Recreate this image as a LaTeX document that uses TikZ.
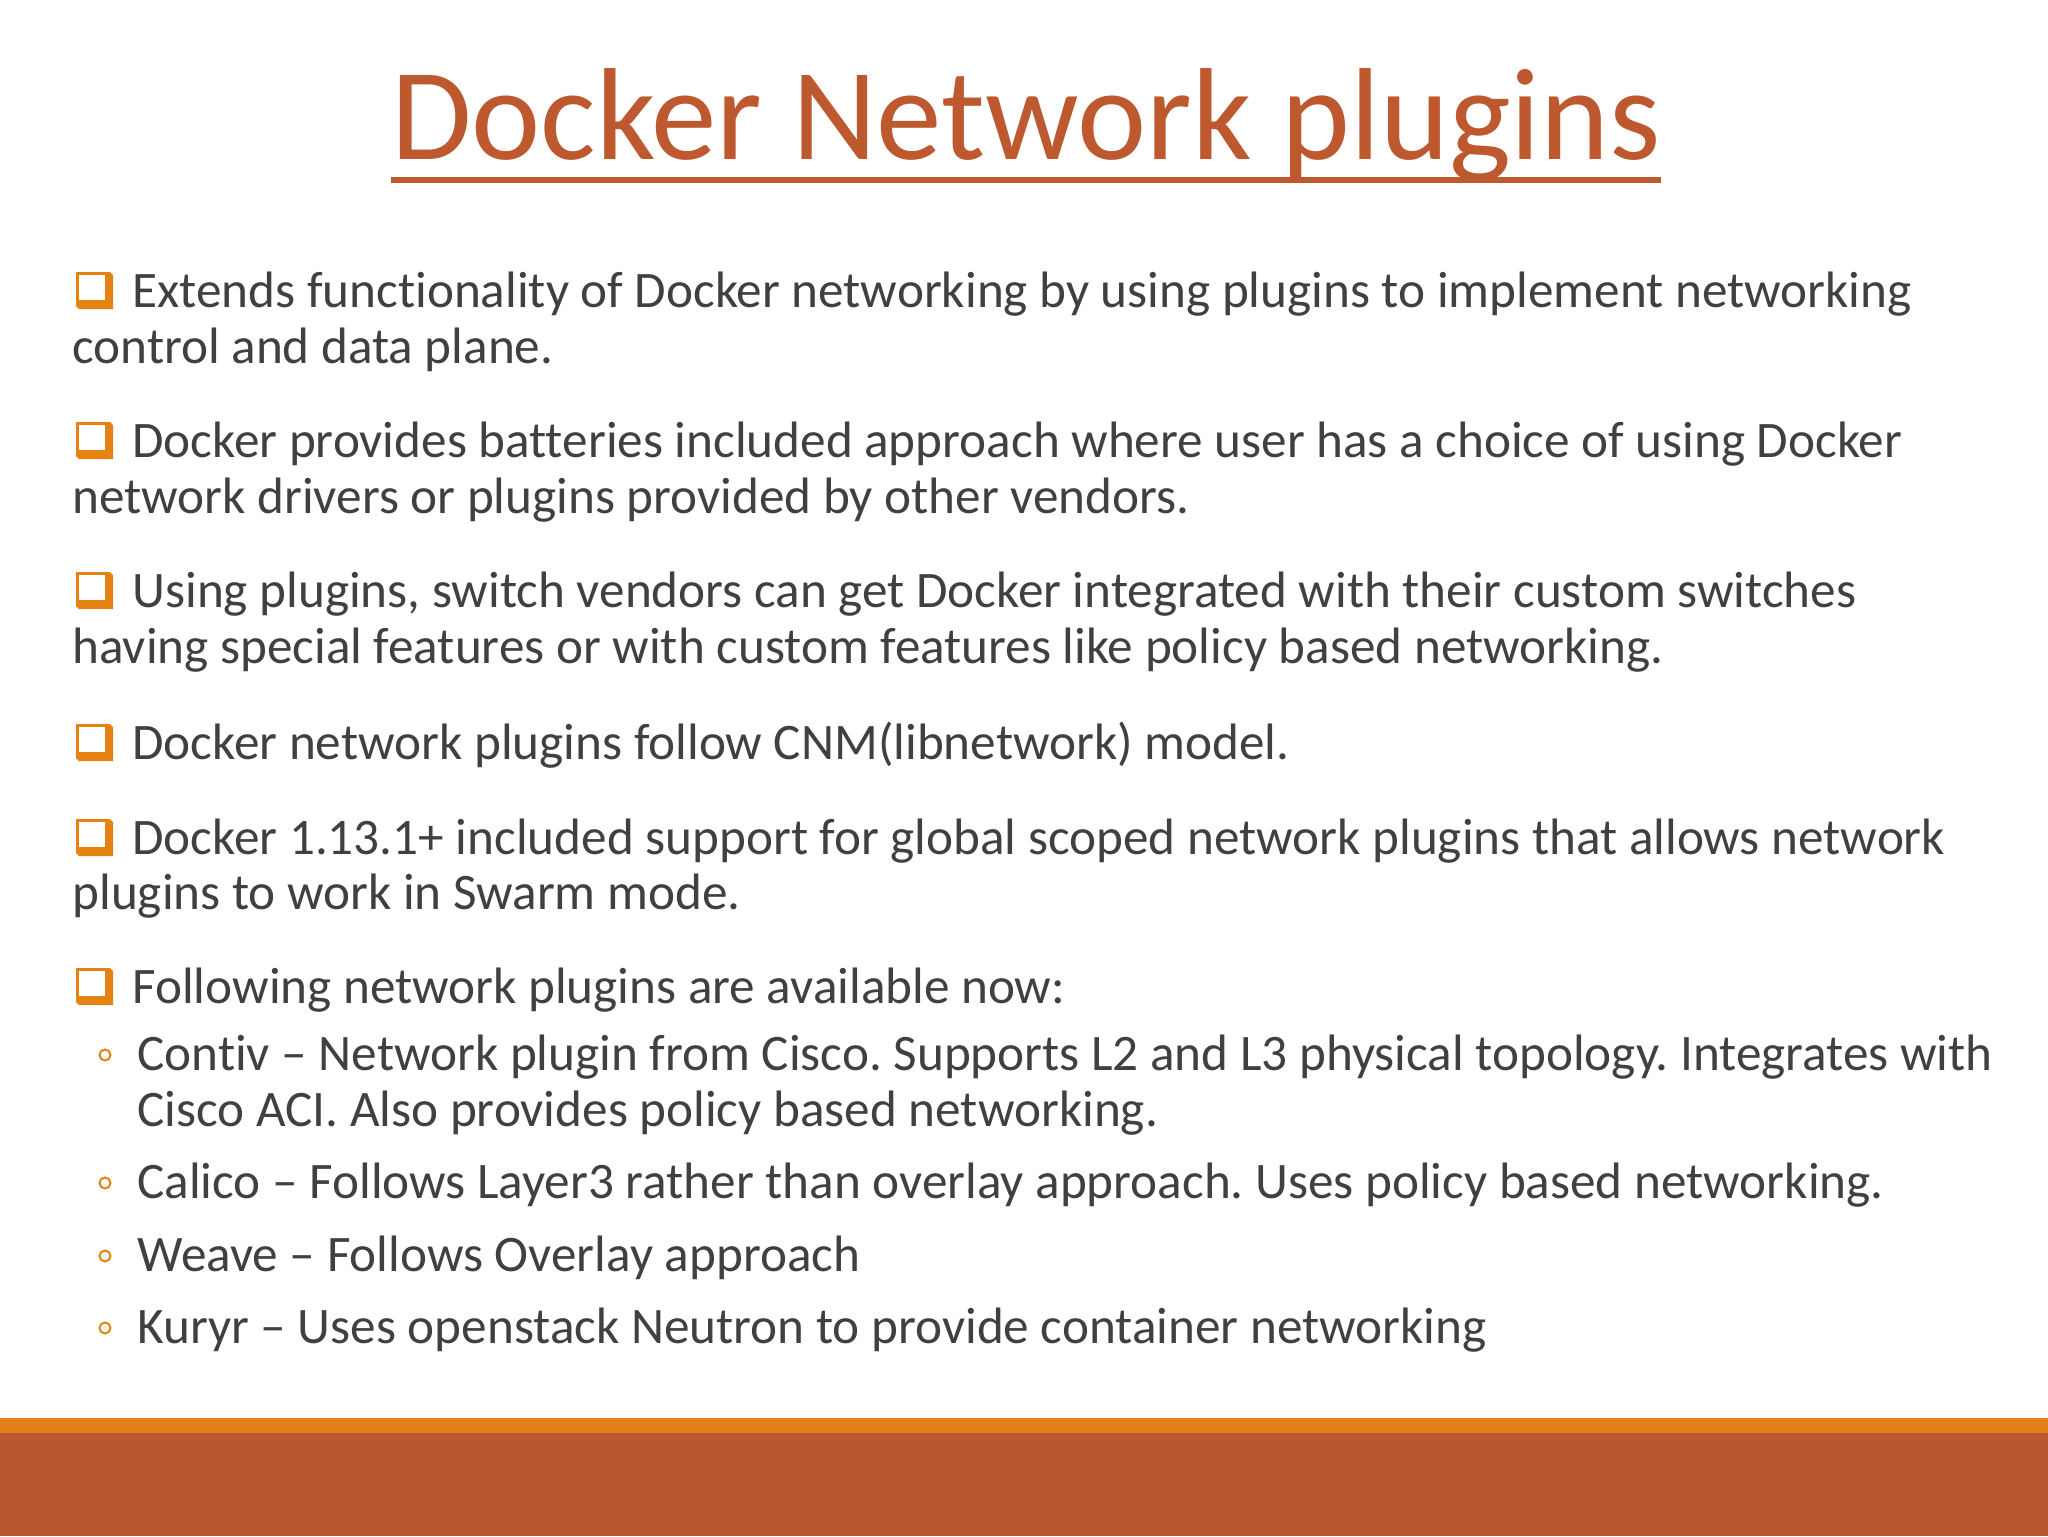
\documentclass[tikz,border=0pt]{standalone}
\usepackage{fontspec}
\setmainfont{Carlito}[Ligatures={TeX,NoCommon}]
\frenchspacing
\definecolor{titlerust}{HTML}{BE582E}
\definecolor{bodygray}{HTML}{404040}
\definecolor{bulletorange}{HTML}{E48312}
\definecolor{bandorange}{HTML}{E3801A}
\definecolor{bandrust}{HTML}{B9582E}
\tikzset{
  line/.style={anchor=base west, inner sep=0pt, text=bodygray, font=\fontsize{25.6}{30}\selectfont},
  subdot/.style={draw=bulletorange, line width=1pt},
  boxbullet/.pic={
    \fill[bulletorange] (0,0) -- (34,0) -- (37,3) -- (37,37) -- (3,37) -- (0,34) -- cycle;
    \fill[white] (3,3) rectangle (29,28);
  }
}
\begin{document}
\begin{tikzpicture}[x=0.5pt, y=-0.5pt]
\useasboundingbox (0,0) rectangle (2048,1536);
\fill[white] (0,0) rectangle (2048,1536);

\node[anchor=base, inner sep=0pt, text=titlerust, font=\fontsize{65.5}{78}\selectfont] (title) at (1026,159) {Docker Network plugins};
\coordinate (ul) at (0,180);
\draw[titlerust, line width=3pt] (title.base west |- ul) -- (title.base east |- ul);

\pic at (76,272) {boxbullet};
\node[line] (b1a) at (132,307) {Extends functionality of Docker networking by using plugins to implement networking};
\node[line] (b1b) at (72,363) {control and data plane.};

\pic at (76,422) {boxbullet};
\node[line] (b2a) at (132,457) {Docker provides batteries included approach where user has a choice of using Docker};
\node[line] (b2b) at (72,513) {network drivers or plugins provided by other vendors.};

\pic at (76,572) {boxbullet};
\node[line] (b3a) at (132,607) {Using plugins, switch vendors can get Docker integrated with their custom switches};
\node[line] (b3b) at (72,663) {having special features or with custom features like policy based networking.};

\pic at (76,724) {boxbullet};
\node[line] (b4) at (132,759) {Docker network plugins follow CNM(libnetwork) model.};

\pic at (76,819) {boxbullet};
\node[line] (b5a) at (132,854) {Docker 1.13.1+ included support for global scoped network plugins that allows network};
\node[line] (b5b) at (72,909) {plugins to work in Swarm mode.};

\pic at (76,968) {boxbullet};
\node[line] (b6) at (132,1003) {Following network plugins are available now:};

\foreach \y in {1070,1198,1271,1343}
  \draw[subdot] (105,\y-15) circle (5.5);
\node[line] (s1a) at (137,1070) {Contiv -- Network plugin from Cisco. Supports L2 and L3 physical topology. Integrates with};
\node[line] (s1b) at (137,1126) {Cisco ACI. Also provides policy based networking.};
\node[line] (s2) at (137,1198) {Calico -- Follows Layer3 rather than overlay approach. Uses policy based networking.};
\node[line] (s3) at (137,1271) {Weave -- Follows Overlay approach};
\node[line] (s4) at (137,1343) {Kuryr -- Uses openstack Neutron to provide container networking};

\fill[bandorange] (0,1418) rectangle (2048,1433);
\fill[bandrust] (0,1433) rectangle (2048,1536);
\end{tikzpicture}
\end{document}
